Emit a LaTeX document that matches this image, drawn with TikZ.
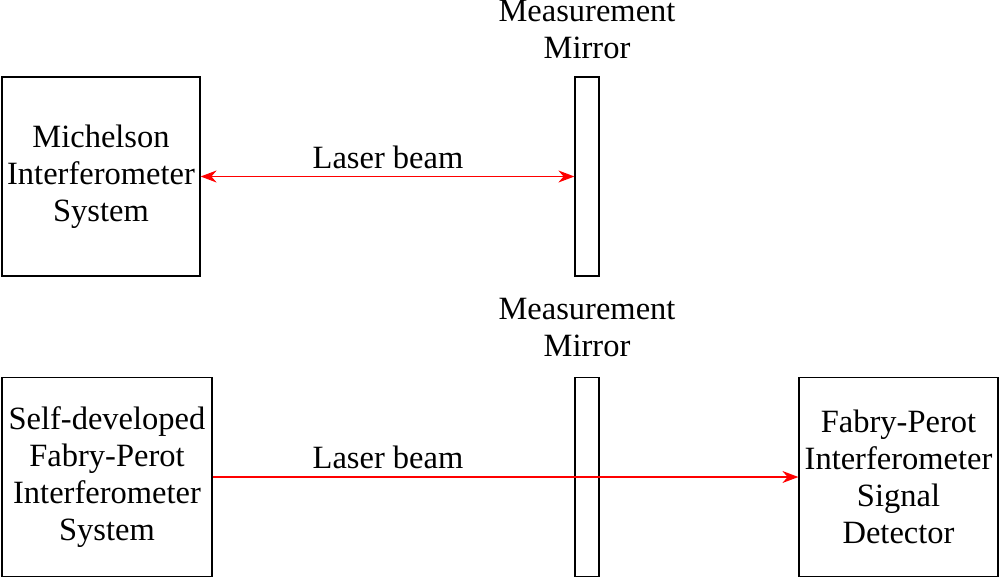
\documentclass[tikz,border=0pt]{standalone}
\usepackage{fontspec}
\setmainfont{Liberation Serif}
\usetikzlibrary{arrows.meta}
\begin{document}
\begin{tikzpicture}[x=1pt,y=-1pt,
  box/.style={draw,line width=1.2pt,inner sep=0pt},
  lbl/.style={align=center,font=\fontsize{32.5}{37}\selectfont},
  beam/.style={red,line width=1.2pt},
  >={Stealth[length=16pt,width=12pt]}]
\useasboundingbox (0,0) rectangle (1000,578);
\node[box,minimum width=198pt,minimum height=199pt] (b1) at (101,176.5) {};
\node[lbl] at (b1) {Michelson\\Interferometer\\System};
\node[box,minimum width=24pt,minimum height=199pt] (m1) at (587,176.5) {};
\node[lbl] (t1) at (587,30) {Measurement\\Mirror};
\draw[beam,<->] (b1.east) -- (m1.west);
\node[lbl] (l1) at (388,157) {Laser beam};
\node[box,minimum width=210pt,minimum height=199pt] (b2) at (107,477) {};
\node[lbl] at (b2) {Self-developed\\Fabry-Perot\\Interferometer\\System};
\node[box,minimum width=24pt,minimum height=199pt] (m2) at (587,477) {};
\node[lbl] (t2) at (587,328) {Measurement\\Mirror};
\node[box,minimum width=199pt,minimum height=199pt] (b3) at (898.5,477) {};
\node[lbl] at (b3) {Fabry-Perot\\Interferometer\\Signal\\Detector};
\draw[beam,->] (b2.east) -- (b3.west);
\node[lbl] (l2) at (388,457) {Laser beam};
\end{tikzpicture}
\end{document}
